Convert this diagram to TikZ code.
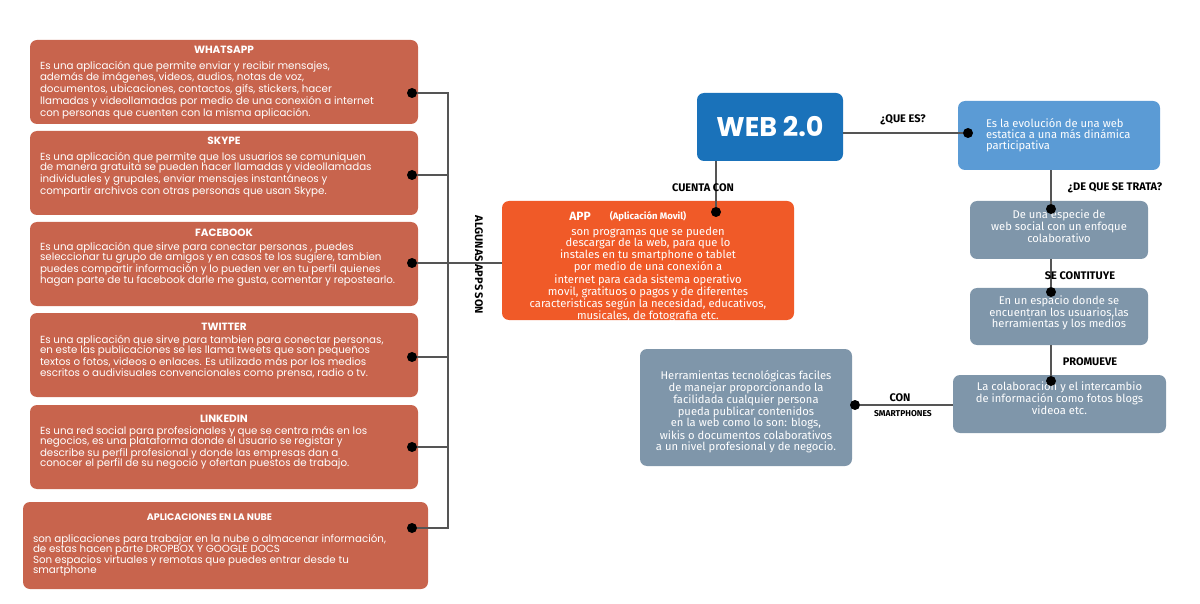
\documentclass[tikz,border=0pt]{standalone}
\usepackage{fontspec}
\setmainfont{Poppins}
\newfontfamily\narrowfont{Fira Sans}
\usetikzlibrary{positioning}

\definecolor{appred}{HTML}{C8644D}
\definecolor{apporange}{HTML}{F05A28}
\definecolor{webblue}{HTML}{1A72BA}
\definecolor{lightblue}{HTML}{5B9BD5}
\definecolor{slate}{HTML}{7F96AA}
\definecolor{linkgray}{HTML}{555555}

\tikzset{
  lbox/.style={rectangle, rounded corners=7pt, fill=appred, draw=none},
  rbox/.style={rectangle, rounded corners=7pt, draw=none},
  ltitle/.style={text=white, font=\bfseries\fontsize{10.5}{11}\selectfont, inner sep=0pt},
  ltxt/.style={text=white, font=\fontsize{10.3}{10.6}\selectfont, align=left, inner sep=0pt},
  rtxt/.style={text=white, font=\narrowfont\fontsize{11.2}{11}\selectfont, align=center, inner sep=0pt},
  lbl/.style={font=\narrowfont\bfseries\fontsize{11}{11}\selectfont, inner sep=0pt},
  dot/.style={circle, fill=black, inner sep=0pt, minimum size=10pt},
  link/.style={draw=linkgray, line width=1.1pt}
}

\begin{document}
\begin{tikzpicture}[x=1pt,y=-1pt]
\useasboundingbox (0,0) rectangle (1200,604);

% left boxes
\node[lbox, minimum width=388pt, minimum height=84pt] (wa) at (224,82) {};
\node[lbox, minimum width=388pt, minimum height=84pt] (sk) at (224,173) {};
\node[lbox, minimum width=388pt, minimum height=84pt] (fb) at (224,264) {};
\node[lbox, minimum width=388pt, minimum height=84pt] (tw) at (224,355) {};
\node[lbox, minimum width=388pt, minimum height=84pt] (li) at (224,447) {};
\node[lbox, minimum width=405pt, minimum height=87pt] (nu) at (225.5,545.5) {};

\node[ltitle] at ([yshift=-10pt]wa.north) {WHATSAPP};
\node[ltxt, anchor=north west] at ([xshift=10pt,yshift=-21pt]wa.north west) {Es una aplicación que permite enviar y recibir mensajes,\\además de imágenes, videos, audios, notas de voz,\\documentos, ubicaciones, contactos, gifs, stickers, hacer\\llamadas  y videollamadas por medio de una conexión a internet\\con personas que cuenten con la misma aplicación.};

\node[ltitle] at ([yshift=-10pt]sk.north) {SKYPE};
\node[ltxt, anchor=north west] at ([xshift=10pt,yshift=-21pt]sk.north west) {Es una aplicación  que permite que los usuarios se comuniquen\\de manera gratuita se pueden hacer llamadas y videollamadas\\individuales y grupales, enviar mensajes instantáneos y\\compartir archivos con otras personas que usan Skype.};

\node[ltitle] at ([yshift=-11pt]fb.north) {FACEBOOK};
\node[ltxt, anchor=north west] at ([xshift=10pt,yshift=-20pt]fb.north west) {Es una aplicación que sirve para conectar personas , puedes\\seleccionar tu grupo de amigos y en casos te los sugiere, tambien\\puedes compartir información y lo pueden ver en tu perfil quienes\\hagan parte de tu facebook darle me gusta, comentar y repostearlo.};

\node[ltitle] at ([yshift=-14pt]tw.north) {TWITTER};
\node[ltxt, anchor=north west] at ([xshift=10pt,yshift=-22pt]tw.north west) {Es una aplicación que sirve para tambien para conectar personas,\\en este las publicaciones se les llama tweets que son pequeños\\textos o fotos, videos o enlaces. Es utilizado más por los medios\\escritos o audivisuales convencionales como prensa, radio o tv.};

\node[ltitle] at ([yshift=-14pt]li.north) {LINKEDIN};
\node[ltxt, anchor=north west] at ([xshift=10pt,yshift=-21pt]li.north west) {Es una red social para profesionales y que se centra más en los\\negocios, es una plataforma donde el usuario se registar y\\describe su perfil profesional y donde las empresas dan a\\conocer el perfil de su negocio y ofertan puestos de trabajo.};

\node[ltitle, font=\bfseries\fontsize{9.5}{10}\selectfont] at ([yshift=-15pt,xshift=-16pt]nu.north) {APLICACIONES EN LA NUBE};
\node[ltxt, anchor=north west] at ([xshift=10pt,yshift=-32pt]nu.north west) {son aplicaciones para trabajar en la nube o almacenar información,\\de estas hacen parte DROPBOX Y GOOGLE DOCS\\Son espacios virtuales y remotas que puedes entrar desde tu\\smartphone};

% dots on the left boxes
\node[dot] (dwa) at (412,93) {};
\node[dot] (dsk) at (412,175) {};
\node[dot] (dfb) at (412,263) {};
\node[dot] (dtw) at (412,357) {};
\node[dot] (dli) at (412,447) {};
\node[dot] (dnu) at (412,528) {};
\coordinate (bus) at (448,263);

% right side boxes
\node[rbox, fill=webblue, minimum width=146pt, minimum height=68pt] (web) at (770,127) {};
\node[text=white, font=\bfseries\fontsize{27}{27}\selectfont, inner sep=0pt] at (web.center) {WEB 2.0};
\node[rbox, fill=apporange, minimum width=292pt, minimum height=119pt] (app) at (648,260.5) {};
\node[text=white, font=\narrowfont\bfseries\fontsize{12}{12}\selectfont, inner sep=0pt] at (580,216) {APP};
\node[text=white, font=\narrowfont\bfseries\fontsize{9.5}{10}\selectfont, inner sep=0pt] at (648,216) {(Aplicación Movil)};
\node[rtxt, anchor=north] at ([yshift=-26pt]app.north) {son programas que se pueden\\descargar de la web, para que lo\\instales en tu smartphone o tablet\\por medio de una conexión a\\internet para cada sistema operativo\\movil, gratituos o pagos y de diferentes\\caracteristicas según la necesidad, educativos,\\musicales, de fotografia etc.};

\node[rbox, fill=lightblue, minimum width=202pt, minimum height=69pt] (evo) at (1059,135.5) {};
\node[rtxt, align=left, anchor=west] at ([xshift=28pt]evo.west) {Es la evolución de una web\\estatica a una más dinámica\\participativa};

\node[rbox, fill=slate, minimum width=178pt, minimum height=58pt] (esp) at (1059,230) {};
\node[rtxt] at ([yshift=4pt]esp.center) {De una especie de\\web social con un enfoque\\colaborativo};

\node[rbox, fill=slate, minimum width=178pt, minimum height=57pt] (enc) at (1059,316.5) {};
\node[rtxt] at ([yshift=4pt]enc.center) {En un espacio donde se\\encuentran los usuarios,las\\herramientas y los medios};

\node[rbox, fill=slate, minimum width=213pt, minimum height=58pt] (col) at (1059.5,404) {};
\node[rtxt] at ([yshift=6pt]col.center) {La colaboración y el intercambio\\de información como fotos blogs\\videoa etc.};

\node[rbox, fill=slate, minimum width=212pt, minimum height=117pt] (her) at (746,407.5) {};
\node[rtxt] at ([yshift=-4pt]her.center) {Herramientas tecnológicas faciles\\de manejar proporcionando la\\facilidada cualquier persona\\pueda publicar contenidos\\en la web como lo son: blogs,\\wikis o documentos colaborativos\\a un nivel profesional y de negocio.};

% dots on the right
\node[dot] (dapp) at (716,212) {};
\node[dot] (devo) at (968,133) {};
\node[dot] (desp) at (1051,209) {};
\node[dot] (denc) at (1051,292) {};
\node[dot] (dcol) at (1051,381) {};
\node[dot] (dher) at (855,405) {};

% connectors
\draw[link] (dwa) -- (dwa -| bus) -- (dnu -| bus) -- (dnu);
\draw[link] (dsk) -- (dsk -| bus);
\draw[link] (dfb) -- (dfb -| bus);
\draw[link] (dtw) -- (dtw -| bus);
\draw[link] (dli) -- (dli -| bus);
\draw[link] (bus) -- (bus -| app.west);
\draw[link] (dapp) -- (dapp |- web.south);
\draw[link] (devo) -- (devo -| web.east);
\draw[link] (desp) -- (desp |- evo.south);
\draw[link] (denc) -- (denc |- esp.south);
\draw[link] (dcol) -- (dcol |- enc.south);
\draw[link] (dher) -- (dher -| col.west);

% labels
\node[lbl, rotate=-90] at (479,265) {ALGUNAS APPS SON};
\node[lbl] at (703,188) {CUENTA CON};
\node[lbl] at (903,120) {¿QUE ES?};
\node[lbl] at (1115,188) {¿DE QUE SE TRATA?};
\node[lbl] at (1080,276) {SE CONTITUYE};
\node[lbl] at (1090,362) {PROMUEVE};
\node[lbl] at (900,398) {CON};
\node[lbl, font=\narrowfont\bfseries\fontsize{8.5}{9}\selectfont] at (903,414) {SMARTPHONES};
\end{tikzpicture}
\end{document}
